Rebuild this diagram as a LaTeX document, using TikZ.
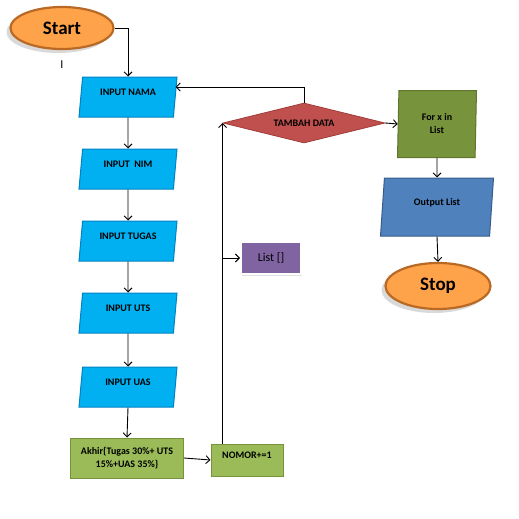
\documentclass[tikz,border=0pt]{standalone}
\usepackage{fontspec}
\setmainfont{Carlito}
\usepackage{xcolor}
\usetikzlibrary{shapes.geometric, arrows, arrows.meta, positioning, shadows, calc}
\definecolor{inputblue}{RGB}{0,176,240}
\definecolor{inputedge}{RGB}{0,130,195}
\definecolor{termorange}{RGB}{255,163,75}
\definecolor{termedge}{RGB}{185,105,35}
\definecolor{procgreen}{RGB}{155,187,89}
\definecolor{procedge}{RGB}{118,146,60}
\definecolor{loopgreen}{RGB}{119,147,60}
\definecolor{loopedge}{RGB}{94,118,46}
\definecolor{outblue}{RGB}{79,129,189}
\definecolor{outedge}{RGB}{56,93,138}
\definecolor{decred}{RGB}{192,80,77}
\definecolor{decedge}{RGB}{160,60,58}
\definecolor{listpurple}{RGB}{128,100,162}

\begin{document}
\begin{tikzpicture}[x=1pt,y=-1pt,line width=0.9pt,>={Straight Barb[length=4pt,width=8pt]},
    terminal/.style={ellipse,draw=termedge,fill=termorange,line width=2.2pt,minimum width=103pt,minimum height=42pt,inner sep=0pt,font=\fontsize{19}{22}\selectfont\bfseries,drop shadow={shadow xshift=-4pt,shadow yshift=-4pt,opacity=.3}},
    inbox/.style={trapezium,trapezium left angle=78,trapezium right angle=102,trapezium stretches body,draw=inputedge,fill=inputblue,line width=1pt,minimum width=98pt,minimum height=40pt,inner sep=0pt,text height=7pt,text depth=10pt,font=\fontsize{10}{12}\selectfont\bfseries},
    procbox/.style={rectangle,draw=procedge,fill=procgreen,line width=1pt,inner sep=0pt,font=\fontsize{10}{12.5}\selectfont\bfseries,align=center}]
    \useasboundingbox (0,0) rectangle (519,519);

    % Mulai
    \node[terminal] (start) at (62,28) {Start};
    \node[font=\fontsize{12}{14}\selectfont] (cursor) at (62,65) {I};

    % Input data
    \node[inbox] (nama) at (128,97) {INPUT NAMA};
    \node[inbox] (nim) at (128,169) {INPUT\ \ NIM};
    \node[inbox] (tugas) at (128,241) {INPUT TUGAS};
    \node[inbox] (uts) at (128,313) {INPUT UTS};
    \node[inbox] (uas) at (128,387) {INPUT UAS};

    % Proses
    \node[procbox,minimum width=113pt,minimum height=40pt] (akhir) at (127,458) {Akhir\{Tugas 30\%+\ UTS\\15\%+UAS 35\%\}};
    \node[procbox,minimum width=72pt,minimum height=32pt,text height=7pt,text depth=10pt] (nomor) at (247,460) {NOMOR+=1};
    \node[rectangle,draw=white,fill=listpurple,line width=2pt,minimum width=60pt,minimum height=32pt,font=\fontsize{12}{14}\selectfont,drop shadow={shadow xshift=1pt,shadow yshift=-1.5pt,opacity=.25}] (list) at (271,258) {List []};

    % Keputusan
    \node[diamond,draw=decedge,fill=decred,line width=0.8pt,minimum width=162pt,minimum height=40pt,shape aspect=4,inner sep=0pt,font=\fontsize{10}{12}\selectfont\bfseries] (tambah) at (304,123) {TAMBAH DATA};

    % Perulangan dan output
    \node[trapezium,trapezium left angle=86,trapezium right angle=94,trapezium stretches body,draw=loopedge,fill=loopgreen,line width=1pt,minimum width=79pt,minimum height=67pt,inner sep=0pt,align=center,font=\fontsize{10}{13}\selectfont\bfseries] (for) at (437,124) {For x in\\List};
    \node[trapezium,trapezium left angle=77,trapezium right angle=103,trapezium stretches body,draw=outedge,fill=outblue,line width=1pt,minimum width=113pt,minimum height=58pt,inner sep=0pt,text height=7pt,text depth=10pt,font=\fontsize{10}{12}\selectfont\bfseries] (output) at (437,207) {Output\ List};
    \node[terminal,minimum width=105pt,minimum height=46pt] (stop) at (438,286) {Stop};

    % Panah
    \draw[->] (start.east) -| (nama.north);
    \draw[->] (nama.south) -- (nim.north);
    \draw[->] (nim.south) -- (tugas.north);
    \draw[->] (tugas.south) -- (uts.north);
    \draw[->] (uts.south) -- (uas.north);
    \draw[->] (uas.south) -- (akhir.north);
    \draw[->] (akhir.east) -- (nomor.west);
    \draw[->] (nomor.north -| tambah.west) -- (tambah.west);
    \draw[->] (list.west -| tambah.west) -- (list.west);
    \draw[->] (tambah.north) |- ([yshift=10pt]nama.east);
    \draw[->] (tambah.east) -- (for.west);
    \draw[->] (for.south) -- (output.north);
    \draw[->] (output.south) -- (stop.north);
\end{tikzpicture}
\end{document}
